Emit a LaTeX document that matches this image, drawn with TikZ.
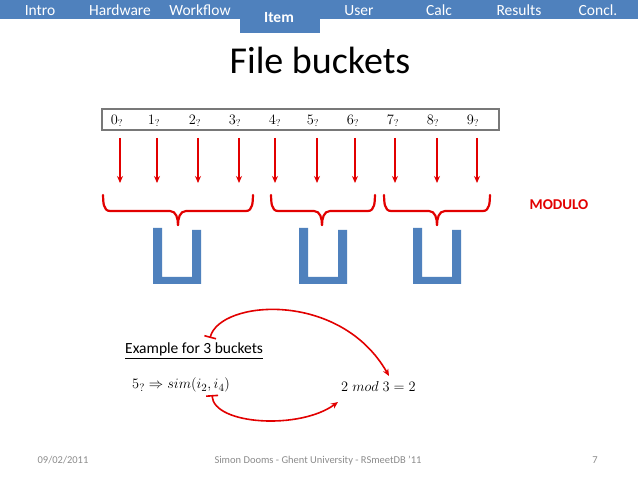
\documentclass[tikz,border=0pt]{standalone}
\usepackage{fontspec}
\setmainfont{Carlito}
\usetikzlibrary{arrows.meta}
\definecolor{barblue}{RGB}{79,129,189}
\definecolor{arrred}{RGB}{226,0,0}
\definecolor{footgray}{RGB}{140,140,140}
\definecolor{boxgray}{RGB}{120,120,120}
\tikzset{
  tab/.style={text=white,font=\fontsize{15.5}{16}\selectfont,anchor=base,inner sep=0pt},
  numlbl/.style={font=\fontsize{14}{15}\selectfont,anchor=base,inner sep=0pt},
  downarrow/.style={draw=arrred,line width=1.8pt,-{Stealth[length=7pt,width=6pt]}},
  bracepath/.style={draw=arrred,line width=2.2pt,line cap=round,line join=round},
  bucketfill/.style={fill=barblue,draw=none},
  curvearrow/.style={draw=arrred,line width=1.6pt,{Bar[width=12pt,line width=1.6pt]}-{Stealth[length=7pt,width=6pt]}},
  foot/.style={text=footgray,font=\fontsize{10.5}{12}\selectfont,anchor=base,inner sep=0pt},
}
\begin{document}
\begin{tikzpicture}[x=1pt,y=-1pt]
\useasboundingbox (0,0) rectangle (638,478);
\fill[white] (0,0) rectangle (638,478);
% top navigation bar
\fill[barblue] (0,0) rectangle (638,19);
\fill[barblue] (240,0) rectangle (320,33);
\node[tab] (tIntro) at (40,16) {Intro};
\node[tab] (tHard) at (120,16) {Hardware};
\node[tab] (tWork) at (200,16) {Workflow};
\node[tab,font=\fontsize{15.5}{16}\selectfont\bfseries] (tItem) at (279,23) {Item};
\node[tab] (tUser) at (359,16) {User};
\node[tab] (tCalc) at (439,16) {Calc};
\node[tab] (tRes) at (519,16) {Results};
\node[tab] (tConcl) at (598,16) {Concl.};
% title
\node[font=\fontsize{38}{40}\selectfont,inner sep=0pt,anchor=base] (title) at (320,74) {File buckets};
% number box
\draw[boxgray,line width=1.4pt] (102,109) rectangle (499,130);
\foreach \d/\x in {0/117,1/154,2/195,3/235,4/275,5/313,6/353,7/393,8/433,9/473}{
  \node[numlbl] (n\d) at (\x,124.5) {$\d_?$};
}
% arrows
\foreach \x in {120,157,198,239,275,317,355,395,437,477}{
  \draw[downarrow] (\x,138) -- (\x,183);
}
% braces
\draw[bracepath] (103,195) to[out=-88,in=180] (110,211) -- (170,211) to[out=0,in=90] (178,225);
\draw[bracepath] (253,195) to[out=-92,in=0] (246,211) -- (186,211) to[out=180,in=90] (178,225);
\draw[bracepath] (271,195) to[out=-88,in=180] (278,211) -- (314,211) to[out=0,in=90] (322,225);
\draw[bracepath] (375,195) to[out=-92,in=0] (368,211) -- (330,211) to[out=180,in=90] (322,225);
\draw[bracepath] (384,195) to[out=-88,in=180] (391,211) -- (429,211) to[out=0,in=90] (437,225);
\draw[bracepath] (490,195) to[out=-92,in=0] (483,211) -- (445,211) to[out=180,in=90] (437,225);
\node[text=arrred,font=\fontsize{15}{16}\selectfont\bfseries,inner sep=0pt,anchor=base] (modulo) at (559,210) {MODULO};
% buckets
\foreach \l in {153,299,413}{
  \fill[bucketfill] (\l,228) -- (\l+9,228) -- (\l+9,277) -- (\l+39,277) -- (\l+39,230) -- (\l+48,230) -- (\l+48,284) -- (\l,284) -- cycle;
}
% example
\node[font=\fontsize{15.5}{16}\selectfont,inner sep=0pt,anchor=base west] (extitle) at (125,354) {\underline{Example for 3 buckets}};
\node[font=\fontsize{15}{16}\selectfont,inner sep=0pt,anchor=base west] (simex) at (132,389) {$5_? \Rightarrow sim(i_2,i_4)$};
\node[font=\fontsize{15}{16}\selectfont,inner sep=0pt,anchor=base west] (modex) at (341,392) {$2\;mod\;3 = 2$};
\coordinate (s1) at (210,338);
\coordinate (e1) at (389,376);
\coordinate (s2) at (212,395);
\coordinate (e2) at (338,402);
\draw[curvearrow] (s1) .. controls (220,300) and (340,290) .. (e1);
\draw[curvearrow] (s2) .. controls (214,425) and (300,430) .. (e2);
% footer
\node[foot] (fdate) at (63,464) {09/02/2011};
\node[foot] (fmid) at (318,464) {Simon Dooms - Ghent University - RSmeetDB '11};
\node[foot] (fnum) at (595,464) {7};
\end{tikzpicture}
\end{document}
